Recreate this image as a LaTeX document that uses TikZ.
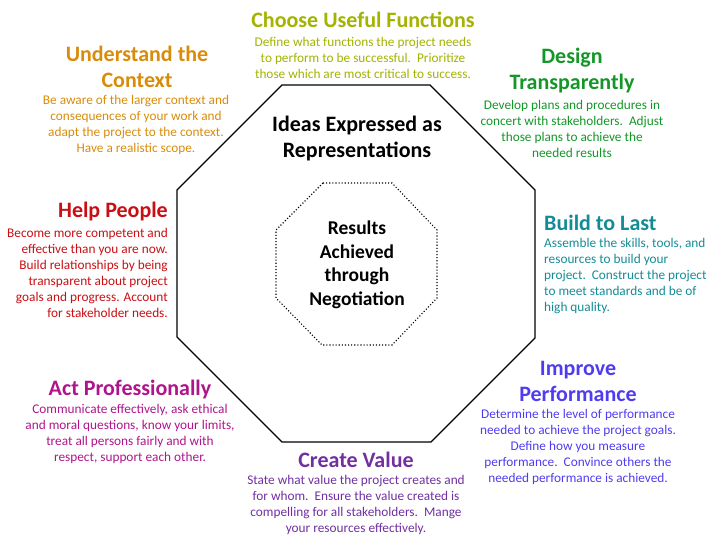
\documentclass[tikz,border=0pt]{standalone}
\usepackage{fontspec}
\setmainfont{Carlito}
\definecolor{chooseC}{RGB}{163,179,0}
\definecolor{contextC}{RGB}{217,140,10}
\definecolor{designC}{RGB}{20,150,40}
\definecolor{helpC}{RGB}{200,15,20}
\definecolor{buildC}{RGB}{20,140,150}
\definecolor{improveC}{RGB}{80,60,240}
\definecolor{valueC}{RGB}{112,48,160}
\definecolor{actC}{RGB}{176,20,140}
\tikzset{
  head/.style={font=\fontsize{22}{26}\selectfont\bfseries, inner sep=0pt, align=center},
  body/.style={font=\fontsize{13.3}{16}\selectfont, inner sep=0pt, align=center},
  core/.style={font=\fontsize{22}{26}\selectfont\bfseries, inner sep=0pt, align=center},
  outer/.style={line width=1.3pt, line join=miter},
  inner/.style={line width=1.1pt, dotted},
}
\begin{document}
\begin{tikzpicture}[x=1pt,y=-1pt]
\useasboundingbox (0,0) rectangle (717,545);
% outer octagon
\coordinate (o1) at (282,85);
\coordinate (o2) at (430,85);
\coordinate (o3) at (535,190);
\coordinate (o4) at (535,338);
\coordinate (o5) at (431,442);
\coordinate (o6) at (282,442);
\coordinate (o7) at (177,337);
\coordinate (o8) at (177,190);
\draw[outer] (o1) -- (o2) -- (o3) -- (o4) -- (o5) -- (o6) -- (o7) -- (o8) -- cycle;
% inner octagon
\coordinate (i1) at (323,183);
\coordinate (i2) at (392,183);
\coordinate (i3) at (437,230);
\coordinate (i4) at (437,298);
\coordinate (i5) at (392,345);
\coordinate (i6) at (322,345);
\coordinate (i7) at (276,298);
\coordinate (i8) at (276,230);
\draw[inner] (i1) -- (i2) -- (i3) -- (i4) -- (i5) -- (i6) -- (i7) -- (i8) -- cycle;

\node[core] (ideas) at (357,139) {Ideas Expressed as\\Representations};
\node[core, font=\fontsize{19.5}{23.5}\selectfont\bfseries] (results) at (357,265) {Results\\Achieved\\through\\Negotiation};

% Choose Useful Functions
\node[head, text=chooseC] (chooseH) at (363,20) {Choose Useful Functions};
\node[body, text=chooseC] (chooseB) at (363,58) {Define what functions the project needs\\to perform to be successful.\ \ Prioritize\\those which are most critical to success.};

% Understand the Context
\node[head, text=contextC] (contextH) at (137,67) {Understand the\\Context};
\node[body, text=contextC] (contextB) at (136,125) {Be aware of the larger context and\\consequences of your work and\\adapt the project to the context.\\Have a realistic scope.};

% Design Transparently
\node[head, text=designC] (designH) at (572,71) {Design\\Transparently};
\node[body, text=designC] (designB) at (572,129) {Develop plans and procedures in\\concert with stakeholders.\ \ Adjust\\those plans to achieve the\\needed results};

% Help People
\node[head, text=helpC, anchor=east] (helpH) at (168,212) {Help People};
\node[body, text=helpC, align=right, anchor=east] (helpB) at (168,272.5) {Become more competent and\\effective than you are now.\\Build relationships by being\\transparent about project\\goals and progress. Account\\for stakeholder needs.};

% Build to Last
\node[head, text=buildC, anchor=west] (buildH) at (544,223) {Build to Last};
\node[body, text=buildC, align=left, anchor=west] (buildB) at (544,276) {Assemble the skills, tools, and\\resources to build your\\project.\ \ Construct the project\\to meet standards and be of\\high quality.};

% Improve Performance
\node[head, text=improveC] (improveH) at (578,381) {Improve\\Performance};
\node[body, text=improveC] (improveB) at (578,447) {Determine the level of performance\\needed to achieve the project goals.\\Define how you measure\\performance.\ \ Convince others the\\needed performance is achieved.};

% Create Value
\node[head, text=valueC] (valueH) at (356,460) {Create Value};
\node[body, text=valueC] (valueB) at (356,505) {State what value the project creates and\\for whom.\ \ Ensure the value created is\\compelling for all stakeholders.\ \ Mange\\your resources effectively.};

% Act Professionally
\node[head, text=actC] (actH) at (130,390) {Act Professionally};
\node[body, text=actC] (actB) at (130,434) {Communicate effectively, ask ethical\\and moral questions, know your limits,\\treat all persons fairly and with\\respect, support each other.};
\end{tikzpicture}
\end{document}
